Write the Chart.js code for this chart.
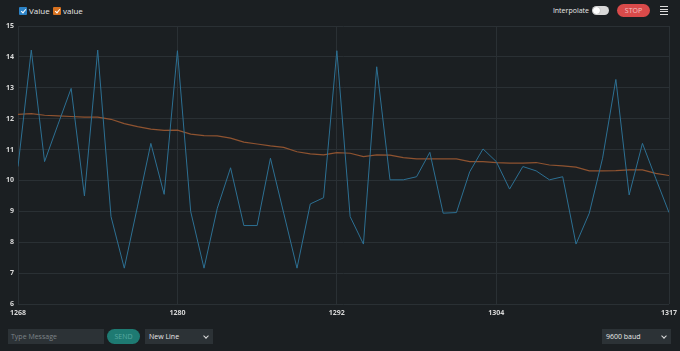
<!DOCTYPE html>
<html>
<head>
<meta charset="utf-8">
<script src="https://cdn.jsdelivr.net/npm/chart.js@4"></script>
<style>
  html, body { margin: 0; padding: 0; background: #1b1f22; width: 680px; height: 351px; overflow: hidden;
    font-family: "Open Sans", "Noto Sans", sans-serif; color: #e8e8e8; }
  .top { position: absolute; left: 0; top: 0; width: 680px; height: 22px; font-size: 8px; }
  .leg { position: absolute; top: 6px; height: 10px; line-height: 10px; white-space: nowrap; }
  .box { display: inline-block; vertical-align: top; width: 8px; height: 8px; margin-top: 1px; border-radius: 1px; margin-right: 2px; position: relative; }
  .box::after { content: ""; position: absolute; left: 2.5px; top: 1px; width: 2px; height: 4px;
    border: solid #fff; border-width: 0 1.2px 1.2px 0; transform: rotate(40deg); }
  .interp { position: absolute; right: 91px; top: 6px; font-size: 7px; line-height: 10px; white-space: nowrap; }
  .toggle { position: absolute; left: 592px; top: 6px; width: 17px; height: 9px; border-radius: 5px; background: #d8d8d8; }
  .toggle::after { content: ""; position: absolute; left: 1px; top: 1px; width: 7px; height: 7px; border-radius: 50%; background: #fff; box-shadow: 0 0 1px #777; }
  .stop { position: absolute; left: 617px; top: 4px; width: 33px; height: 13px; border-radius: 7px; background: #d94a4a;
    color: #f3c2c2; font-size: 7px; text-align: center; line-height: 13px; }
  .icon { position: absolute; left: 660px; top: 6px; width: 8px; height: 9px; }
  .icon span { display: block; height: 1px; background: #ddd; margin-bottom: 1.5px; }
  .chartwrap { position: absolute; left: 0; top: 20px; width: 680px; height: 300px; }
  .bottom { font-size: 7px; }
  .inp { position: absolute; left: 8px; top: 329px; width: 96px; height: 15px; background: #2c3236; color: #7d8488;
    line-height: 15px; padding-left: 3px; box-sizing: border-box; }
  .send { position: absolute; left: 107px; top: 329px; width: 33px; height: 15px; border-radius: 8px; background: #1e7a72;
    color: #58a9a1; text-align: center; line-height: 15px; }
  .sel { position: absolute; top: 329px; height: 15px; background: #2c3236; color: #e8e8e8; line-height: 15px;
    padding-left: 4px; box-sizing: border-box; }
  .sel::after { content: ""; position: absolute; right: 5px; top: 5px; width: 3px; height: 3px;
    border: solid #ddd; border-width: 0 1px 1px 0; transform: rotate(45deg); }
</style>
</head>
<body>
<div class="top">
  <div class="leg" style="left:19px"><span class="box" style="background:#2b82c6"></span>Value</div>
  <div class="leg" style="left:53px"><span class="box" style="background:#d7711f"></span>value</div>
  <div class="interp">Interpolate</div>
  <div class="toggle"></div>
  <div class="stop">STOP</div>
  <div class="icon"><span></span><span></span><span></span><span></span></div>
</div>
<div class="chartwrap"><canvas id="plot" width="680" height="300"></canvas></div>
<div class="bottom">
  <div class="inp">Type Message</div>
  <div class="send">SEND</div>
  <div class="sel" style="left:145px;width:68px">New Line</div>
  <div class="sel" style="left:602px;width:69px">9600 baud</div>
</div>
<script>
// sample indices shown on x axis
const startSample = 1268;
const seriesNames = ['Value', 'value'];
const rawValues = [10.45, 14.22, 10.61, 11.8, 12.98, 9.5, 14.22, 8.83, 7.16, 9.17,
  11.2, 9.55, 14.2, 8.99, 7.16, 9.1, 10.41, 8.54, 8.54, 10.72,
  8.94, 7.16, 9.24, 9.44, 14.2, 8.83, 7.94, 13.68, 10.02, 10.02,
  10.12, 10.91, 8.94, 8.96, 10.28, 11.02, 10.61, 9.72, 10.45, 10.31,
  10.02, 10.12, 7.94, 8.94, 10.72, 13.27, 9.53, 11.2, 10.07, 8.96];
const avgValues = [12.14, 12.16, 12.11, 12.09, 12.07, 12.05, 12.05, 11.98, 11.84, 11.74,
  11.66, 11.62, 11.63, 11.5, 11.45, 11.44, 11.37, 11.24, 11.18, 11.12,
  11.07, 10.93, 10.86, 10.83, 10.9, 10.88, 10.77, 10.83, 10.82, 10.74,
  10.7, 10.7, 10.7, 10.7, 10.61, 10.61, 10.58, 10.56, 10.56, 10.58,
  10.5, 10.47, 10.43, 10.31, 10.31, 10.32, 10.34, 10.34, 10.23, 10.16];
const xTicks = [1268, 1280, 1292, 1304, 1317];
const yTicks = [6, 7, 8, 9, 10, 11, 12, 13, 14, 15];

const toPoints = arr => arr.map((v, i) => ({ x: startSample + i, y: v }));
const tickFont = { size: 7, weight: 'bold', family: 'Open Sans' };

const ctx = document.getElementById('plot').getContext('2d');
new Chart(ctx, {
  type: 'line',
  data: {
    datasets: [
      { label: seriesNames[0], data: toPoints(rawValues), borderColor: '#2d7093', borderWidth: 1, pointRadius: 0, tension: 0 },
      { label: seriesNames[1], data: toPoints(avgValues), borderColor: '#8f5330', borderWidth: 1.2, pointRadius: 0, tension: 0 }
    ]
  },
  options: {
    responsive: false,
    animation: false,
    layout: { padding: { top: 6, right: 0, left: 0, bottom: 0 } },
    plugins: { legend: { display: false }, tooltip: { enabled: false } },
    scales: {
      x: {
        type: 'linear',
        min: xTicks[0],
        max: xTicks[xTicks.length - 1],
        afterBuildTicks: s => { s.ticks = xTicks.map(v => ({ value: v })); },
        afterFit: s => { s.height = 16; s.paddingLeft = 0; s.paddingRight = 11; },
        grid: { color: '#2a3034', drawTicks: false },
        border: { display: false },
        ticks: { color: '#d8d8d8', font: tickFont, padding: 5, maxRotation: 0, autoSkip: false,
          callback: v => String(v) }
      },
      y: {
        min: yTicks[0],
        max: yTicks[yTicks.length - 1],
        afterBuildTicks: s => { s.ticks = yTicks.map(v => ({ value: v })); },
        afterFit: s => { s.width = 18; s.paddingTop = 0; s.paddingBottom = 0; },
        grid: { color: '#2a3034', drawTicks: false },
        border: { display: false },
        ticks: { color: '#d8d8d8', font: tickFont, padding: 4 }
      }
    }
  }
});
</script>
</body>
</html>
